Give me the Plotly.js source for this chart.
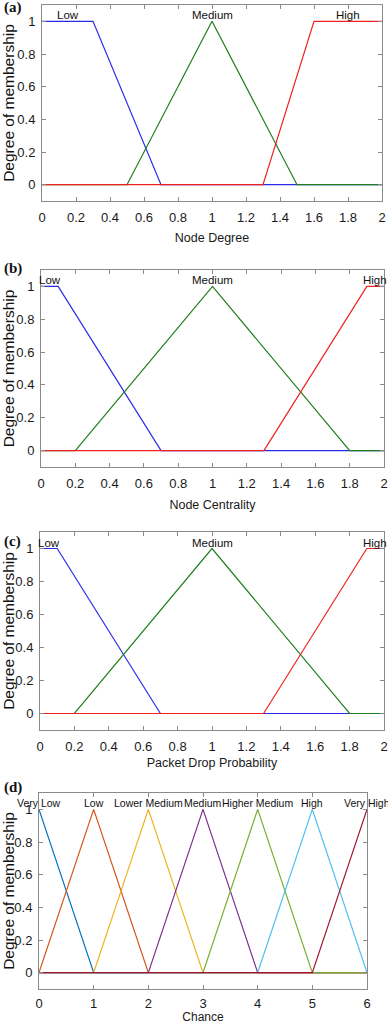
<!DOCTYPE html>
<html>
<head>
<meta charset="utf-8">
<script src="https://cdn.plot.ly/plotly-3.0.1.min.js"></script>
<style>
html,body{margin:0;padding:0;background:#fff;}
#chart{width:388px;height:1024px;}
</style>
</head>
<body>
<div id="chart"></div>
<script>
// ---------- DATA ----------
// Panel (a) Node Degree
const aNames = ['Low', 'Medium', 'High'];
const aLabelX = [0.15, 1, 1.8];
const aLowX = [0, 0.3, 0.7, 2];          const aLowY = [1, 1, 0, 0];
const aMedX = [0, 0.5, 1, 1.5, 2];       const aMedY = [0, 0, 1, 0, 0];
const aHighX = [0, 1.3, 1.6, 2];         const aHighY = [0, 0, 1, 1];

// Panel (b) Node Centrality
const bNames = ['Low', 'Medium', 'High'];
const bLabelX = [0.05, 1, 1.95];
const bLowX = [0, 0.1, 0.7, 2];          const bLowY = [1, 1, 0, 0];
const bMedX = [0, 0.2, 1, 1.8, 2];       const bMedY = [0, 0, 1, 0, 0];
const bHighX = [0, 1.3, 1.9, 2];         const bHighY = [0, 0, 1, 1];

// Panel (c) Packet Drop Probability
const cNames = ['Low', 'Medium', 'High'];
const cLabelX = [0.05, 1, 1.95];
const cLowX = [0, 0.1, 0.7, 2];          const cLowY = [1, 1, 0, 0];
const cMedX = [0, 0.2, 1, 1.8, 2];       const cMedY = [0, 0, 1, 0, 0];
const cHighX = [0, 1.3, 1.9, 2];         const cHighY = [0, 0, 1, 1];

// Panel (d) Chance
const dNames = ['Very Low', 'Low', 'Lower Medium', 'Medium', 'Higher Medium', 'High', 'Very High'];
const dLabelX = [0, 1, 2, 3, 4, 5, 6];
const dVLowX = [0, 1, 6];                const dVLowY = [1, 0, 0];
const dLowX = [0, 1, 2, 6];              const dLowY = [0, 1, 0, 0];
const dLMedX = [0, 1, 2, 3, 6];          const dLMedY = [0, 0, 1, 0, 0];
const dMedX = [0, 2, 3, 4, 6];           const dMedY = [0, 0, 1, 0, 0];
const dHMedX = [0, 3, 4, 5, 6];          const dHMedY = [0, 0, 1, 0, 0];
const dHighX = [0, 4, 5, 6];             const dHighY = [0, 0, 1, 0];
const dVHighX = [0, 5, 6];               const dVHighY = [0, 0, 1];

const xTitles = ['Node Degree', 'Node Centrality', 'Packet Drop Probability', 'Chance'];
const panelTags = ['(a)', '(b)', '(c)', '(d)'];

// ---------- STYLE ----------
const oldCols = ['#2a2ae8', '#1f7f1f', '#ee2020'];
const newCols = ['#0072BD', '#D95319', '#EDB120', '#7E2F8E', '#77AC30', '#4DBEEE', '#A2142F'];
const sans = '"Liberation Sans", Arial, sans-serif';
const H = 1024, W = 388;

function line(x, y, color, ax) {
  return {x: x, y: y, type: 'scatter', mode: 'lines', xaxis: 'x' + ax, yaxis: 'y' + ax,
          line: {color: color, width: 1.2}, hoverinfo: 'skip', showlegend: false};
}

const traces = [
  line(aLowX, aLowY, oldCols[0], ''), line(aMedX, aMedY, oldCols[1], ''), line(aHighX, aHighY, oldCols[2], ''),
  line(bLowX, bLowY, oldCols[0], '2'), line(bMedX, bMedY, oldCols[1], '2'), line(bHighX, bHighY, oldCols[2], '2'),
  line(cLowX, cLowY, oldCols[0], '3'), line(cMedX, cMedY, oldCols[1], '3'), line(cHighX, cHighY, oldCols[2], '3'),
  line(dVLowX, dVLowY, newCols[0], '4'), line(dLowX, dLowY, newCols[1], '4'), line(dLMedX, dLMedY, newCols[2], '4'),
  line(dMedX, dMedY, newCols[3], '4'), line(dHMedX, dHMedY, newCols[4], '4'), line(dHighX, dHighY, newCols[5], '4'),
  line(dVHighX, dVHighY, newCols[6], '4')
];

// pixel boxes [left, right, top, bottom]
const boxes = [[42, 382, 5, 201], [41, 384, 270, 467], [40, 384, 532, 730], [39, 367, 793, 989]];
const xRanges = [[0, 2], [0, 2], [0, 2], [0, 6]];
const xDticks = [0.2, 0.2, 0.2, 1];
const standoffs = [9, 10, 5, 6];
const xLabelStandoff = [4, 4, 4, 2];
const xTitleSize = [12.5, 12.5, 12.5, 12];
const tagY = [7, 268, 541, 787];

const layout = {
  width: W, height: H,
  margin: {l: 0, r: 0, t: 0, b: 0},
  paper_bgcolor: '#fff', plot_bgcolor: '#fff',
  showlegend: false,
  annotations: []
};

const axisCommon = {
  showgrid: false, zeroline: false, showline: true, linecolor: '#8a8a8a', linewidth: 1,
  mirror: 'ticks', ticks: 'inside', ticklen: 4, tickcolor: '#8a8a8a', tickwidth: 1,
  tickfont: {family: sans, size: 13, color: '#1a1a1a'}, fixedrange: true, automargin: false
};

boxes.forEach((b, i) => {
  const s = i === 0 ? '' : String(i + 1);
  layout['xaxis' + s] = Object.assign({}, axisCommon, {
    domain: [b[0] / W, b[1] / W], anchor: 'y' + s,
    range: xRanges[i], dtick: xDticks[i], tick0: 0, ticklabelstandoff: xLabelStandoff[i],
    title: {text: xTitles[i], font: {family: sans, size: xTitleSize[i], color: '#1a1a1a'}, standoff: standoffs[i]}
  });
  layout['yaxis' + s] = Object.assign({}, axisCommon, {
    domain: [1 - b[3] / H, 1 - b[2] / H], anchor: 'x' + s,
    range: [-0.1, 1.1], dtick: 0.2, tick0: 0, ticklabelstandoff: 3,
    title: {text: 'Degree of membership', font: {family: sans, size: 15.5, color: '#111'}, standoff: 6}
  });
  layout.annotations.push({
    text: '<b>' + panelTags[i] + '</b>', xref: 'paper', yref: 'paper',
    x: 2 / W, y: 1 - tagY[i] / H, xanchor: 'left', yanchor: 'middle', showarrow: false,
    font: {family: 'Liberation Serif, Times New Roman, serif', size: 15, color: '#111'}
  });
});

function addLabels(names, xs, ax, size) {
  names.forEach((n, k) => {
    layout.annotations.push({
      text: n, xref: 'x' + ax, yref: 'y' + ax, x: xs[k], y: 1, xanchor: 'center', yanchor: 'bottom',
      yshift: -2, showarrow: false, font: {family: sans, size: size, color: '#111'}
    });
  });
}
addLabels(aNames, aLabelX, '', 11.5);
addLabels(bNames, bLabelX, '2', 11.5);
addLabels(cNames, cLabelX, '3', 11.5);
addLabels(dNames, dLabelX, '4', 10.5);

Plotly.newPlot('chart', traces, layout, {staticPlot: true, displayModeBar: false});
</script>
</body>
</html>
